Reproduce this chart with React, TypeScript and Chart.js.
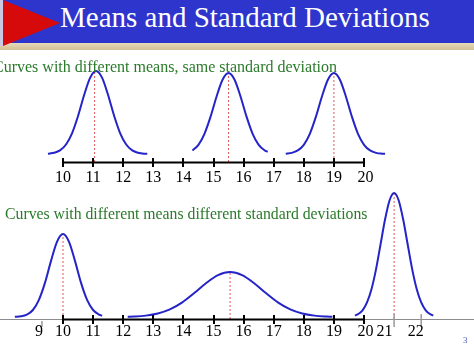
import React, { useEffect, useRef } from 'react';
import { Chart, registerables } from 'chart.js';

Chart.register(...registerables);

// ---------- Data ----------
// Top panel: different means, same standard deviation
const TOP_C1_X = [9.5, 9.7, 9.9, 10.1, 10.3, 10.5, 10.7, 10.9, 11.1, 11.3, 11.5, 11.7, 11.9, 12.1, 12.3, 12.5, 12.7, 12.8];
const TOP_C1_Y = [0.003, 0.012, 0.036, 0.095, 0.207, 0.38, 0.587, 0.761, 0.83, 0.761, 0.587, 0.38, 0.207, 0.095, 0.036, 0.012, 0.003, 0.002];
const TOP_C2_X = [14.3, 14.5, 14.7, 14.9, 15.1, 15.3, 15.5, 15.7, 15.9, 16.1, 16.3, 16.5, 16.7, 16.8];
const TOP_C2_Y = [0.036, 0.092, 0.202, 0.371, 0.573, 0.743, 0.81, 0.743, 0.573, 0.371, 0.202, 0.092, 0.036, 0.021];
const TOP_C3_X = [17.4, 17.6, 17.8, 18.0, 18.2, 18.4, 18.6, 18.8, 19.0, 19.2, 19.4, 19.6, 19.8, 20.0, 20.2, 20.4, 20.6, 20.7];
const TOP_C3_Y = [0.003, 0.0115, 0.036, 0.092, 0.202, 0.371, 0.573, 0.743, 0.81, 0.743, 0.573, 0.371, 0.202, 0.092, 0.036, 0.0115, 0.003, 0.0015];
const TOP_MEANS = [11.05, 15.5, 19.0];
const TOP_PEAKS = [0.83, 0.81, 0.81];
const TOP_TICKS = [10, 11, 12, 13, 14, 15, 16, 17, 18, 19, 20];
const TOP_LABELS = ['10', '11', '12', '13', '14', '15', '16', '17', '18', '19', '20'];
const TOP_LABEL_POS = [10, 11, 12, 13, 14, 15, 16, 17, 18, 19, 20.05];

// Bottom panel: different means, different standard deviations
const BOT_C1_X = [8.4, 8.6, 8.8, 9.0, 9.2, 9.4, 9.6, 9.8, 10.0, 10.2, 10.4, 10.6, 10.8, 11.0, 11.2, 11.3];
const BOT_C1_Y = [0.0015, 0.0066, 0.024, 0.07, 0.171, 0.341, 0.559, 0.752, 0.83, 0.752, 0.559, 0.341, 0.171, 0.07, 0.024, 0.013];
const BOT_C2_X = [12.15, 12.35, 12.75, 13.15, 13.55, 13.95, 14.35, 14.75, 15.15, 15.55, 15.95, 16.35, 16.75, 17.15, 17.55, 17.95, 18.35, 18.75, 18.95];
const BOT_C2_Y = [0.0026, 0.0047, 0.0137, 0.035, 0.076, 0.144, 0.237, 0.338, 0.419, 0.45, 0.419, 0.338, 0.237, 0.144, 0.076, 0.035, 0.0137, 0.0047, 0.0026];
const BOT_C3_X = [19.7, 19.8, 19.95, 20.1, 20.25, 20.4, 20.55, 20.7, 20.85, 21.0, 21.15, 21.3, 21.45, 21.6, 21.75, 21.9, 22.05, 22.2, 22.3];
const BOT_C3_Y = [0.014, 0.028, 0.067, 0.146, 0.28, 0.479, 0.727, 0.977, 1.168, 1.24, 1.168, 0.977, 0.727, 0.479, 0.28, 0.146, 0.067, 0.028, 0.014];
const BOT_MEANS = [10.0, 15.55, 21.0];
const BOT_PEAKS = [0.83, 0.45, 1.24];
const BOT_TICKS = [10, 11, 12, 13, 14, 15, 16, 17, 18, 19, 20];
const BOT_GRAY_TICKS = [9.3, 21.0, 21.9];
const BOT_LABELS = ['9', '10', '11', '12', '13', '14', '15', '16', '17', '18', '19', '20', '21', '22'];
const BOT_LABEL_POS = [9.2, 10, 11, 12, 13, 14, 15, 16, 17, 18, 19, 20.05, 20.68, 21.72];

const CURVE_COLOR = '#2424c8';
const MEAN_COLOR = '#e05a5a';
const SERIF = '"Liberation Serif", "Times New Roman", serif';

const zip = (xs: number[], ys: number[]) => xs.map((x, i) => ({ x, y: ys[i] }));

const axisPlugin = {
  id: 'slideAxis',
  afterDatasetsDraw(chart: any, _args: any, opts: any) {
    const { ctx } = chart;
    const xs = chart.scales.x;
    const ys = chart.scales.y;
    const y0 = Math.round(ys.getPixelForValue(opts.axisY));
    ctx.save();
    if (opts.grayLine) {
      ctx.strokeStyle = '#8c8c8c';
      ctx.lineWidth = 1;
      ctx.beginPath();
      ctx.moveTo(0, y0 + 0.5);
      ctx.lineTo(chart.width, y0 + 0.5);
      ctx.stroke();
    }
    ctx.strokeStyle = '#9a9a9a';
    ctx.lineWidth = 1.5;
    (opts.grayTicks || []).forEach((v: number, i: number) => {
      const x = xs.getPixelForValue(v);
      ctx.beginPath();
      ctx.moveTo(x, y0 + (i === 0 ? 2 : -5));
      ctx.lineTo(x, y0 + 8);
      ctx.stroke();
    });
    ctx.strokeStyle = '#000';
    ctx.lineWidth = 2;
    ctx.beginPath();
    ctx.moveTo(xs.getPixelForValue(opts.ticks[0]), y0 + 0.5);
    ctx.lineTo(xs.getPixelForValue(opts.ticks[opts.ticks.length - 1]), y0 + 0.5);
    ctx.stroke();
    opts.ticks.forEach((v: number) => {
      const x = Math.round(xs.getPixelForValue(v));
      ctx.beginPath();
      ctx.moveTo(x, y0 - 4);
      ctx.lineTo(x, y0 + 5);
      ctx.stroke();
    });
    ctx.fillStyle = '#000';
    ctx.font = opts.font;
    ctx.textAlign = 'center';
    ctx.textBaseline = 'alphabetic';
    opts.labels.forEach((t: string, i: number) => {
      ctx.fillText(t, xs.getPixelForValue(opts.labelPos[i]), y0 + opts.labelOffset);
    });
    ctx.restore();
  },
};

function curveDataset(xs: number[], ys: number[]) {
  return {
    data: zip(xs, ys),
    borderColor: CURVE_COLOR,
    borderWidth: 2,
    pointRadius: 0,
    fill: false,
    cubicInterpolationMode: 'monotone' as const,
  };
}

function meanDataset(m: number, base: number, peak: number) {
  return {
    data: [
      { x: m, y: base },
      { x: m, y: peak },
    ],
    borderColor: MEAN_COLOR,
    borderWidth: 1,
    borderDash: [2, 2],
    pointRadius: 0,
    fill: false,
  };
}

type PanelProps = {
  top: number;
  height: number;
  curves: [number[], number[]][];
  means: number[];
  peaks: number[];
  yMin: number;
  yMax: number;
  axis: any;
};

const X_MIN = 7.907;
const X_MAX = 23.654;

function Panel(props: PanelProps) {
  const ref = useRef<HTMLCanvasElement | null>(null);
  useEffect(() => {
    if (!ref.current) return;
    const datasets: any[] = [];
    props.curves.forEach(([xs, ys]) => datasets.push(curveDataset(xs, ys)));
    props.means.forEach((m, i) => datasets.push(meanDataset(m, props.axis.axisY, props.peaks[i])));
    const chart = new Chart(ref.current, {
      type: 'line',
      data: { datasets },
      options: {
        responsive: false,
        maintainAspectRatio: false,
        animation: false,
        layout: { padding: 0 },
        parsing: false as any,
        plugins: {
          legend: { display: false },
          tooltip: { enabled: false },
          slideAxis: props.axis,
        } as any,
        scales: {
          x: { type: 'linear', display: false, min: X_MIN, max: X_MAX },
          y: { type: 'linear', display: false, min: props.yMin, max: props.yMax },
        },
      },
      plugins: [axisPlugin],
    });
    return () => chart.destroy();
  }, []);
  return (
    <canvas
      ref={ref}
      width={474}
      height={props.height}
      style={{ position: 'absolute', left: 0, top: props.top, width: 474, height: props.height }}
    />
  );
}

export default function App() {
  useEffect(() => {
    document.body.style.margin = '0';
  }, []);
  return (
    <div style={{ position: 'relative', width: 474, height: 355, background: '#fff', overflow: 'hidden' }}>
      {/* title bar */}
      <div style={{ position: 'absolute', left: 0, top: 0, width: 474, height: 43, background: '#2e35cc' }} />
      <div
        style={{
          position: 'absolute',
          left: 0,
          top: 43,
          width: 474,
          height: 7,
          background: 'linear-gradient(#e6dab8, #d2c096)',
        }}
      />
      <div style={{ position: 'absolute', left: 0, top: 0, width: 3, height: 46, background: '#c9c9e4' }} />
      <div
        style={{
          position: 'absolute',
          left: 3,
          top: 0,
          width: 57,
          height: 46,
          background: '#d60a0a',
          clipPath: 'polygon(0 0, 100% 50%, 0 100%)',
        }}
      />
      <div
        style={{
          position: 'absolute',
          left: 60,
          top: 3,
          fontFamily: SERIF,
          fontSize: 29,
          lineHeight: '29px',
          color: '#fff',
          whiteSpace: 'nowrap',
          zIndex: 2,
        }}
      >
        Means and Standard Deviations
      </div>

      <Panel
        top={60}
        height={130}
        curves={[
          [TOP_C1_X, TOP_C1_Y],
          [TOP_C2_X, TOP_C2_Y],
          [TOP_C3_X, TOP_C3_Y],
        ]}
        means={TOP_MEANS}
        peaks={TOP_PEAKS}
        yMin={-0.36}
        yMax={0.94}
        axis={{
          axisY: -0.08,
          ticks: TOP_TICKS,
          labels: TOP_LABELS,
          labelPos: TOP_LABEL_POS,
          labelOffset: 20,
          font: '16px ' + SERIF,
          grayLine: false,
          grayTicks: [],
        }}
      />
      <Panel
        top={185}
        height={170}
        curves={[
          [BOT_C1_X, BOT_C1_Y],
          [BOT_C2_X, BOT_C2_Y],
          [BOT_C3_X, BOT_C3_Y],
        ]}
        means={BOT_MEANS}
        peaks={BOT_PEAKS}
        yMin={-0.38}
        yMax={1.32}
        axis={{
          axisY: -0.02,
          ticks: BOT_TICKS,
          labels: BOT_LABELS,
          labelPos: BOT_LABEL_POS,
          labelOffset: 17,
          font: '16px ' + SERIF,
          grayLine: true,
          grayTicks: BOT_GRAY_TICKS,
        }}
      />

      <div
        style={{
          position: 'absolute',
          left: -7,
          top: 59,
          fontFamily: SERIF,
          fontSize: 16,
          lineHeight: '16px',
          color: '#2b7a2b',
          whiteSpace: 'nowrap',
        }}
      >
        Curves with different means, same standard deviation
      </div>
      <div
        style={{
          position: 'absolute',
          left: 5,
          top: 206,
          fontFamily: SERIF,
          fontSize: 15.75,
          lineHeight: '16px',
          color: '#2b7a2b',
          whiteSpace: 'nowrap',
        }}
      >
        Curves with different means different standard deviations
      </div>
      <div
        style={{
          position: 'absolute',
          left: 463,
          top: 336,
          fontFamily: SERIF,
          fontSize: 9,
          lineHeight: '9px',
          color: '#4a5ac0',
        }}
      >
        3
      </div>
    </div>
  );
}
